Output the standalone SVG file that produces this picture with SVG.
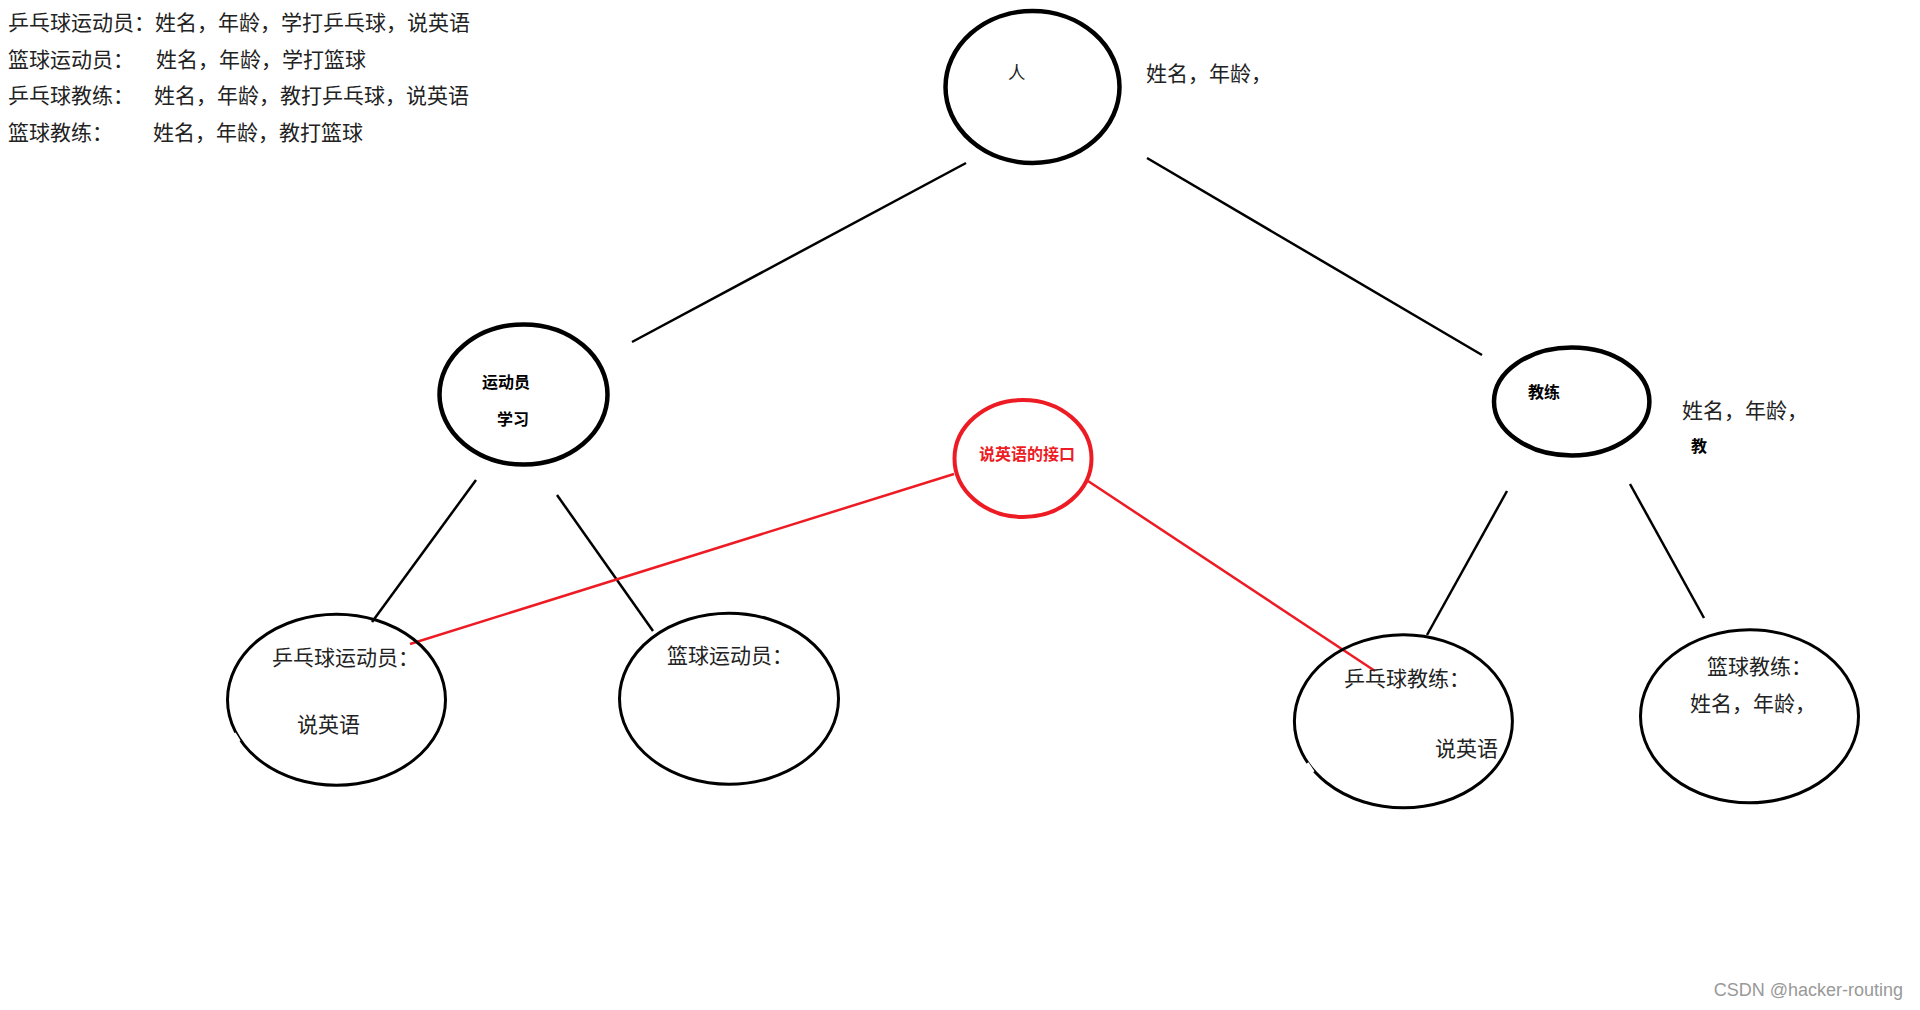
<svg xmlns="http://www.w3.org/2000/svg" width="1920" height="1010" viewBox="0 0 1920 1010">
<style>
.t{font-family:"Liberation Sans","Noto Sans CJK SC",sans-serif;font-size:21px;fill:#222}
.b{font-family:"Liberation Sans","Noto Sans CJK SC",sans-serif;font-size:16px;font-weight:bold;fill:#000}
.big{fill:none;stroke:#000;stroke-width:4.5}
.thin{fill:none;stroke:#000;stroke-width:3}
.ln{stroke:#000;stroke-width:2.5;fill:none}
.rl{stroke:#ed1c24;stroke-width:2.5;fill:none}
.gap{stroke:#fff;stroke-width:6}
</style>
<rect width="1920" height="1010" fill="#fff"/>
<g id="legend">
<text class="t" x="8" y="30">乒乓球运动员：<tspan x="155">姓名，年龄，学打乒乓球，说英语</tspan></text>
<text class="t" x="8" y="66.5">篮球运动员：<tspan x="156">姓名，年龄，学打篮球</tspan></text>
<text class="t" x="8" y="103">乒乓球教练：<tspan x="154">姓名，年龄，教打乒乓球，说英语</tspan></text>
<text class="t" x="8" y="139.5">篮球教练：<tspan x="153">姓名，年龄，教打篮球</tspan></text>
</g>
<g id="connectors">
<line class="ln" x1="966" y1="163" x2="632" y2="342"/>
<line class="ln" x1="1147" y1="158" x2="1482" y2="355"/>
<line class="ln" x1="476" y1="480" x2="372" y2="622"/>
<line class="ln" x1="557" y1="495" x2="653" y2="631"/>
<line class="ln" x1="1507" y1="491" x2="1427" y2="635"/>
<line class="ln" x1="1630" y1="484" x2="1704" y2="618"/>
<line class="rl" x1="954" y1="474" x2="410" y2="644"/>
<line class="rl" x1="1088" y1="481" x2="1375" y2="671"/>
</g>
<g id="node-ren">
<ellipse class="big" cx="1032.5" cy="87" rx="87" ry="76"/>
<text class="t" x="1008" y="79" style="font-size:17.5px">人</text>
<text class="t" x="1146" y="80.5">姓名，年龄，</text>
</g>
<g id="node-athlete">
<ellipse class="big" cx="523.5" cy="394.5" rx="84" ry="70"/>
<text class="b" x="482" y="387.5">运动员</text>
<text class="b" x="497" y="424.5">学习</text>
</g>
<g id="node-coach">
<ellipse class="big" cx="1571.7" cy="401.5" rx="77.7" ry="54"/>
<text class="b" x="1528" y="397.5">教练</text>
<text class="t" x="1682" y="417.5">姓名，年龄，</text>
<text class="b" x="1691" y="451.5">教</text>
</g>
<g id="node-interface">
<ellipse cx="1023" cy="458.5" rx="68.5" ry="58.5" fill="none" stroke="#ed1c24" stroke-width="4"/>
<text class="b" x="979" y="459.5" style="fill:#ed1c24">说英语的接口</text>
</g>
<g id="node-pp-athlete">
<ellipse class="thin" cx="336.5" cy="699.7" rx="109" ry="85.5"/>
<line class="gap" x1="233" y1="734" x2="238" y2="742"/>
<text class="t" x="272" y="664.5">乒乓球运动员：</text>
<text class="t" x="297" y="731.5">说英语</text>
</g>
<g id="node-bb-athlete">
<ellipse class="thin" cx="729" cy="698.7" rx="109.5" ry="85.5"/>
<text class="t" x="667" y="662.5">篮球运动员：</text>
</g>
<g id="node-pp-coach">
<ellipse class="thin" cx="1403.4" cy="721.3" rx="109" ry="86.5"/>
<line class="gap" x1="1306" y1="764" x2="1312" y2="773"/>
<text class="t" x="1344" y="685.5">乒乓球教练：</text>
<text class="t" x="1435" y="755.5">说英语</text>
</g>
<g id="node-bb-coach">
<ellipse class="thin" cx="1749.5" cy="716.3" rx="109" ry="86.5"/>
<text class="t" x="1707" y="673.5">篮球教练：</text>
<text class="t" x="1690" y="710.5">姓名，年龄，</text>
</g>
<text x="1903" y="996" text-anchor="end" style="font-family:'Liberation Sans',sans-serif;font-size:18px;fill:#999">CSDN @hacker-routing</text>
</svg>
